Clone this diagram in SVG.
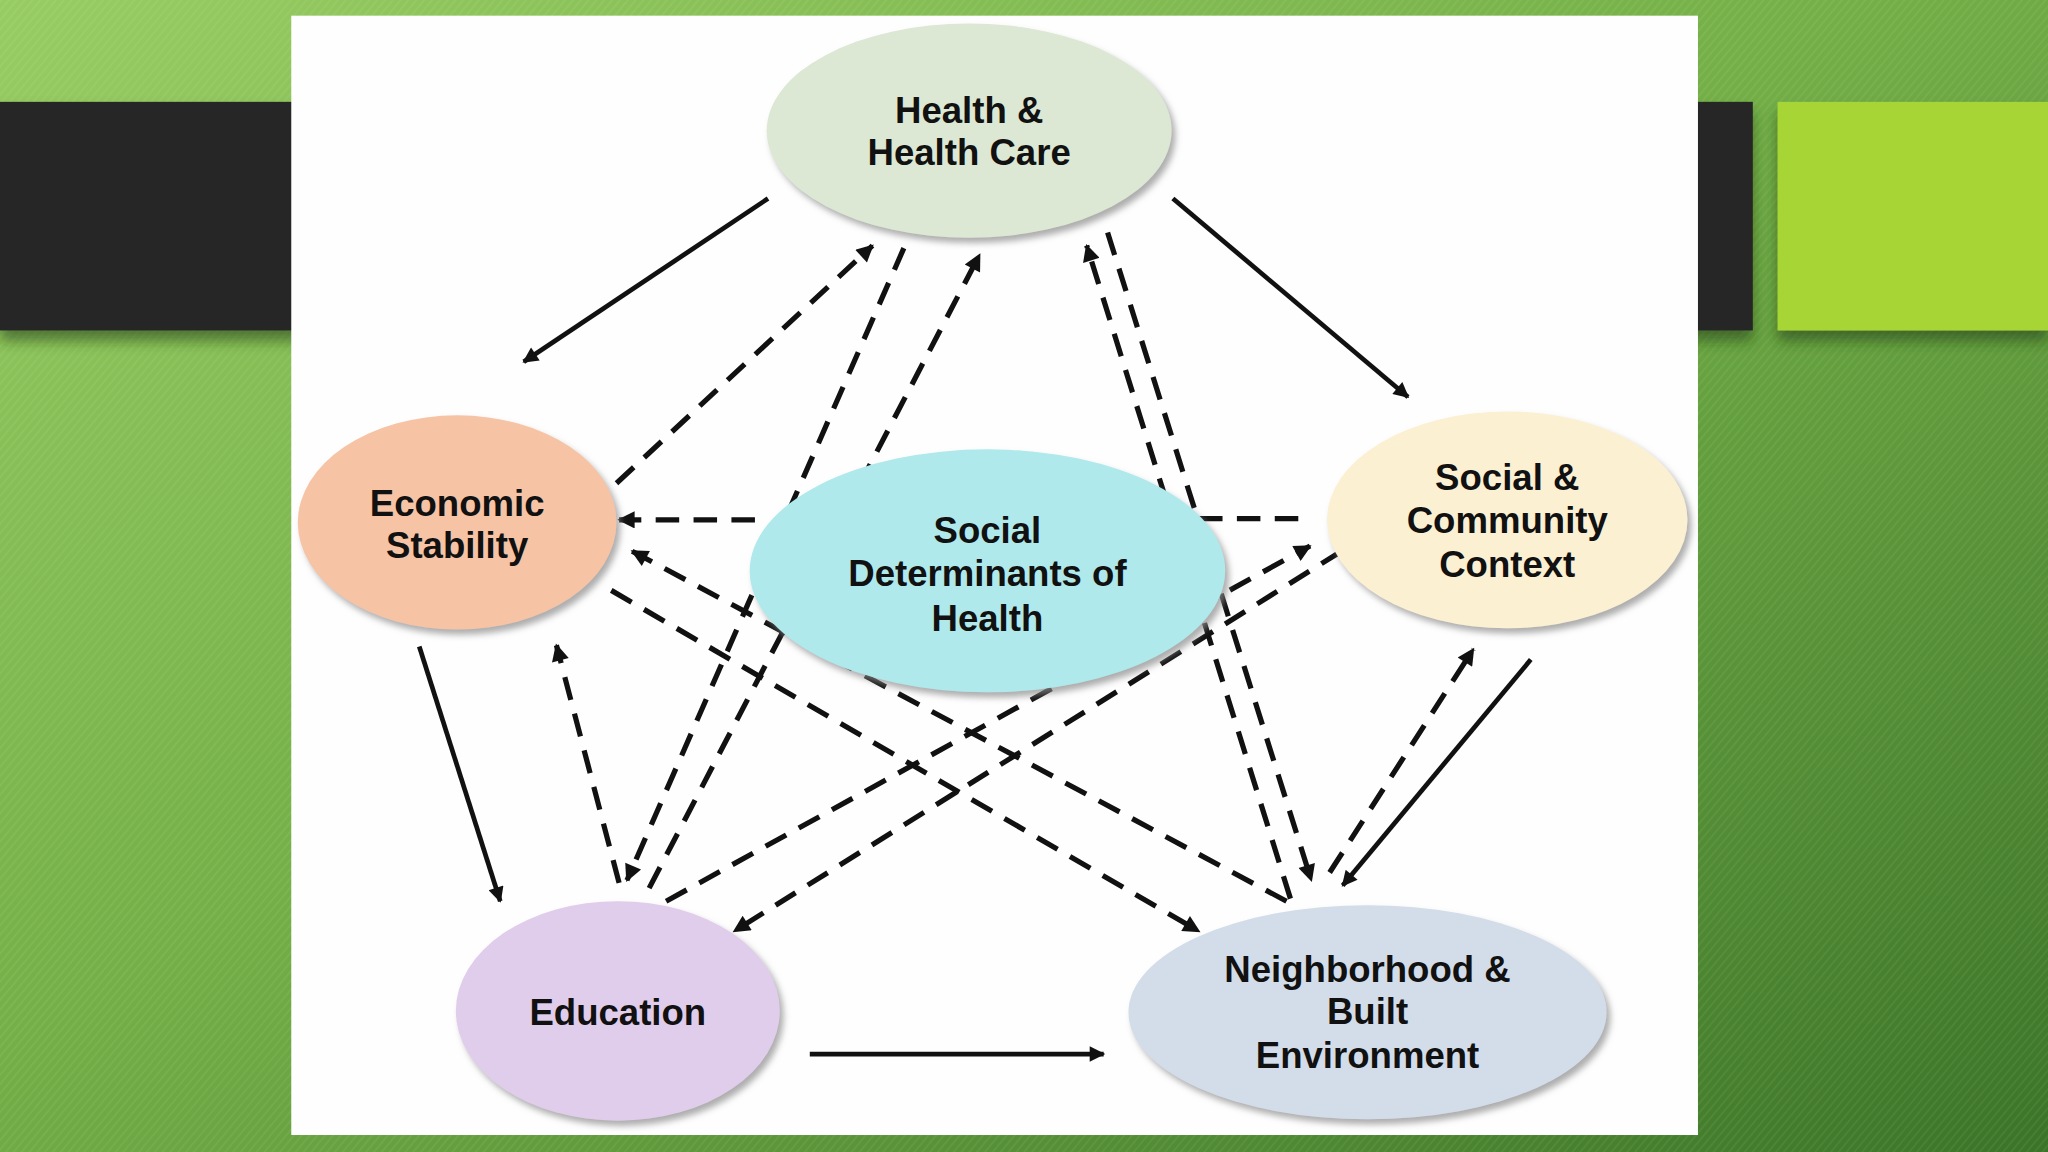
<svg xmlns="http://www.w3.org/2000/svg" width="2048" height="1152" viewBox="0 0 2048 1152">
<defs>
<linearGradient id="bg" x1="0" y1="0" x2="1" y2="1">
<stop offset="0" stop-color="#97cc62"/>
<stop offset="0.45" stop-color="#74b047"/>
<stop offset="1" stop-color="#3b7427"/>
</linearGradient>
<pattern id="stripes" width="6" height="6" patternUnits="userSpaceOnUse" patternTransform="rotate(-50)">
<rect width="6" height="2" fill="#ffffff" opacity="0.06"/>
</pattern>
<filter id="barShadow" x="-5%" y="-20%" width="110%" height="150%">
<feDropShadow dx="0" dy="8" stdDeviation="5" flood-color="#1c3a10" flood-opacity="0.55"/>
</filter>
<filter id="nodeShadow" x="-10%" y="-10%" width="125%" height="130%">
<feDropShadow dx="3" dy="4" stdDeviation="2.5" flood-color="#8a8a8a" flood-opacity="0.7"/>
</filter>
<marker id="arrow" viewBox="0 0 10 10" refX="9" refY="5" markerWidth="4" markerHeight="3.3" orient="auto">
<path d="M0,0 L10,5 L0,10 z" fill="#111111"/>
</marker>
<style>
.node text { font-family: "Liberation Sans", Arial, sans-serif; font-weight: bold; font-size: 28px; fill: #111111; text-anchor: middle; }
.solid { stroke: #111111; stroke-width: 3.6; fill: none; }
.dash { stroke: #111111; stroke-width: 4; fill: none; stroke-dasharray: 18 11; }
.arr { marker-end: url(#arrow); }
</style>
</defs>
<rect x="0" y="0" width="2048" height="1152" fill="url(#bg)"/>
<rect x="0" y="0" width="2048" height="1152" fill="url(#stripes)"/>
<g transform="scale(1.306122)">
<g id="decor">
<rect x="0" y="78" width="1342" height="175" fill="#262626" filter="url(#barShadow)"/>
<rect x="1361" y="78" width="207" height="175" fill="#a6d535" filter="url(#barShadow)"/>
<rect x="223" y="12" width="1077" height="857" fill="#fefefe"/>
</g>
<g id="connectors">
<line class="solid arr" x1="588" y1="152" x2="401" y2="277"/>
<line class="solid arr" x1="898" y1="152" x2="1078" y2="304"/>
<line class="solid arr" x1="321" y1="495" x2="383" y2="690"/>
<line class="solid arr" x1="1172" y1="505" x2="1028" y2="678"/>
<line class="solid arr" x1="620" y1="807" x2="845" y2="807"/>
<line class="dash arr" x1="578" y1="398" x2="474" y2="398"/>
<line class="dash" x1="918" y1="397" x2="1005" y2="397"/>
<line class="dash arr" x1="472" y1="370" x2="668" y2="188"/>
<line class="dash arr" x1="692" y1="190" x2="480" y2="674"/>
<line class="dash arr" x1="497" y1="680" x2="750" y2="195"/>
<line class="dash arr" x1="474" y1="676" x2="426" y2="494"/>
<line class="dash arr" x1="510" y1="690" x2="1003" y2="418"/>
<line class="dash arr" x1="1027" y1="422" x2="562" y2="713"/>
<line class="dash arr" x1="468" y1="452" x2="918" y2="713"/>
<line class="dash arr" x1="985" y1="690" x2="484" y2="422"/>
<line class="dash arr" x1="848" y1="178" x2="1004" y2="674"/>
<line class="dash arr" x1="988" y1="688" x2="832" y2="188"/>
<line class="dash arr" x1="1018" y1="668" x2="1128" y2="497"/>
</g>
<g id="node-health" class="node">
<ellipse cx="742" cy="100" rx="155" ry="82" fill="#dce8d3" filter="url(#nodeShadow)"/>
<text x="742" y="94">Health &amp;</text>
<text x="742" y="126">Health Care</text>
</g>
<g id="node-economic" class="node">
<ellipse cx="350" cy="400" rx="122" ry="82" fill="#f6c3a5" filter="url(#nodeShadow)"/>
<text x="350" y="395">Economic</text>
<text x="350" y="427">Stability</text>
</g>
<g id="node-sdoh" class="node">
<ellipse cx="756" cy="437" rx="182" ry="93" fill="#afe9ec" filter="url(#nodeShadow)"/>
<text x="756" y="416">Social</text>
<text x="756" y="449">Determinants of</text>
<text x="756" y="483">Health</text>
</g>
<g id="node-social" class="node">
<ellipse cx="1154" cy="398" rx="138" ry="83" fill="#fcf0d3" filter="url(#nodeShadow)"/>
<text x="1154" y="375">Social &amp;</text>
<text x="1154" y="408">Community</text>
<text x="1154" y="442">Context</text>
</g>
<g id="node-education" class="node">
<ellipse cx="473" cy="774" rx="124" ry="84" fill="#e0cdeb" filter="url(#nodeShadow)"/>
<text x="473" y="785">Education</text>
</g>
<g id="node-neighborhood" class="node">
<ellipse cx="1047" cy="775" rx="183" ry="82" fill="#d3dde9" filter="url(#nodeShadow)"/>
<text x="1047" y="752">Neighborhood &amp;</text>
<text x="1047" y="784">Built</text>
<text x="1047" y="818">Environment</text>
</g>
</g>
</svg>
